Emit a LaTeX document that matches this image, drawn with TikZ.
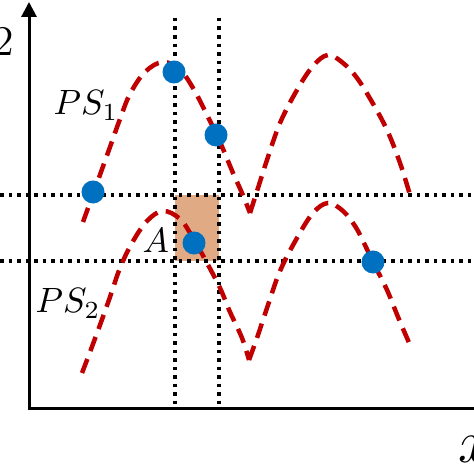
\documentclass[tikz,border=0pt]{standalone}
\usetikzlibrary{arrows.meta,positioning}
\definecolor{curvered}{RGB}{192,0,0}
\definecolor{dotblue}{RGB}{0,112,192}
\definecolor{regionfill}{RGB}{224,170,132}
\begin{document}
\begin{tikzpicture}[x=0.01cm, y=-0.01cm,
        axis/.style={line width=0.03cm},
        guide/.style={line width=0.035cm, dash pattern=on 0.035cm off 0.05cm},
        curve/.style={curvered, line width=0.045cm, dash pattern=on 0.15cm off 0.085cm},
        sample/.style={circle, fill=dotblue, minimum size=0.23cm, inner sep=0pt},
        lbl/.style={inner sep=0pt, font=\fontsize{10.4}{12}\selectfont},
        axlbl/.style={inner sep=0pt, font=\fontsize{18}{20}\selectfont}]
    \useasboundingbox (0,0) rectangle (474,474);
    \clip (0,0) rectangle (474,474);

    \coordinate (origin) at (29,408);
    \coordinate (ytop) at (29,2);
    \coordinate (xend) at (474,408);
    \coordinate (regNW) at (175,195);
    \coordinate (regSE) at (219,261);

    \fill[regionfill] (regNW) rectangle (regSE);

    \draw[guide] (0,195) -- (474,195);
    \draw[guide] (0,261) -- (474,261);
    \draw[guide] (175,18) -- (175,408);
    \draw[guide] (219,18) -- (219,408);

    \draw[axis, -{Triangle[length=0.15cm, width=0.15cm]}] (xend) -- (origin) -- (ytop);

    \draw[curve] plot[smooth, tension=0.6] coordinates {(83,222) (92,197) (101,172) (110,147) (120,119) (130,94) (145,72) (163,62) (180,70) (193,88) (207,115) (220,142) (233,173) (242,193) (250,213)}
        plot[smooth, tension=0.6] coordinates {(250,213) (258,188) (267,160) (280,123) (297,90) (313,66) (328,55) (343,63) (357,78) (372,102) (387,130) (400,163) (410,195)};
    \draw[curve] plot[smooth, tension=0.6] coordinates {(82,373) (90,352) (100,325) (110,297) (120,268) (132,243) (147,221) (163,211) (180,219) (193,238) (207,263) (220,288) (230,312) (242,338) (249,360)}
        plot[smooth, tension=0.6] coordinates {(249,360) (258,335) (267,308) (280,271) (297,238) (313,213) (328,203) (343,211) (355,226) (363,241) (373,262) (387,290) (398,317) (410,345)};

    \node[sample] (s1) at (174,72) {};
    \node[sample] (s2) at (216,135) {};
    \node[sample] (s3) at (93,192) {};
    \node[sample] (s4) at (194,243) {};
    \node[sample] (s5) at (373,262) {};

    \node[lbl, anchor=base west] (ps1) at (53,115) {$PS_1$};
    \node[lbl, anchor=base west] (ps2) at (35,313) {$PS_2$};
    \node[lbl, anchor=base west] (regA) at (142,253) {$A$};

    \node[axlbl, anchor=base east] (ylbl) at (16,46) {$x_2$};
    \node[axlbl, anchor=base west] (xlbl) at (458,462) {$x_1$};
\end{tikzpicture}
\end{document}
